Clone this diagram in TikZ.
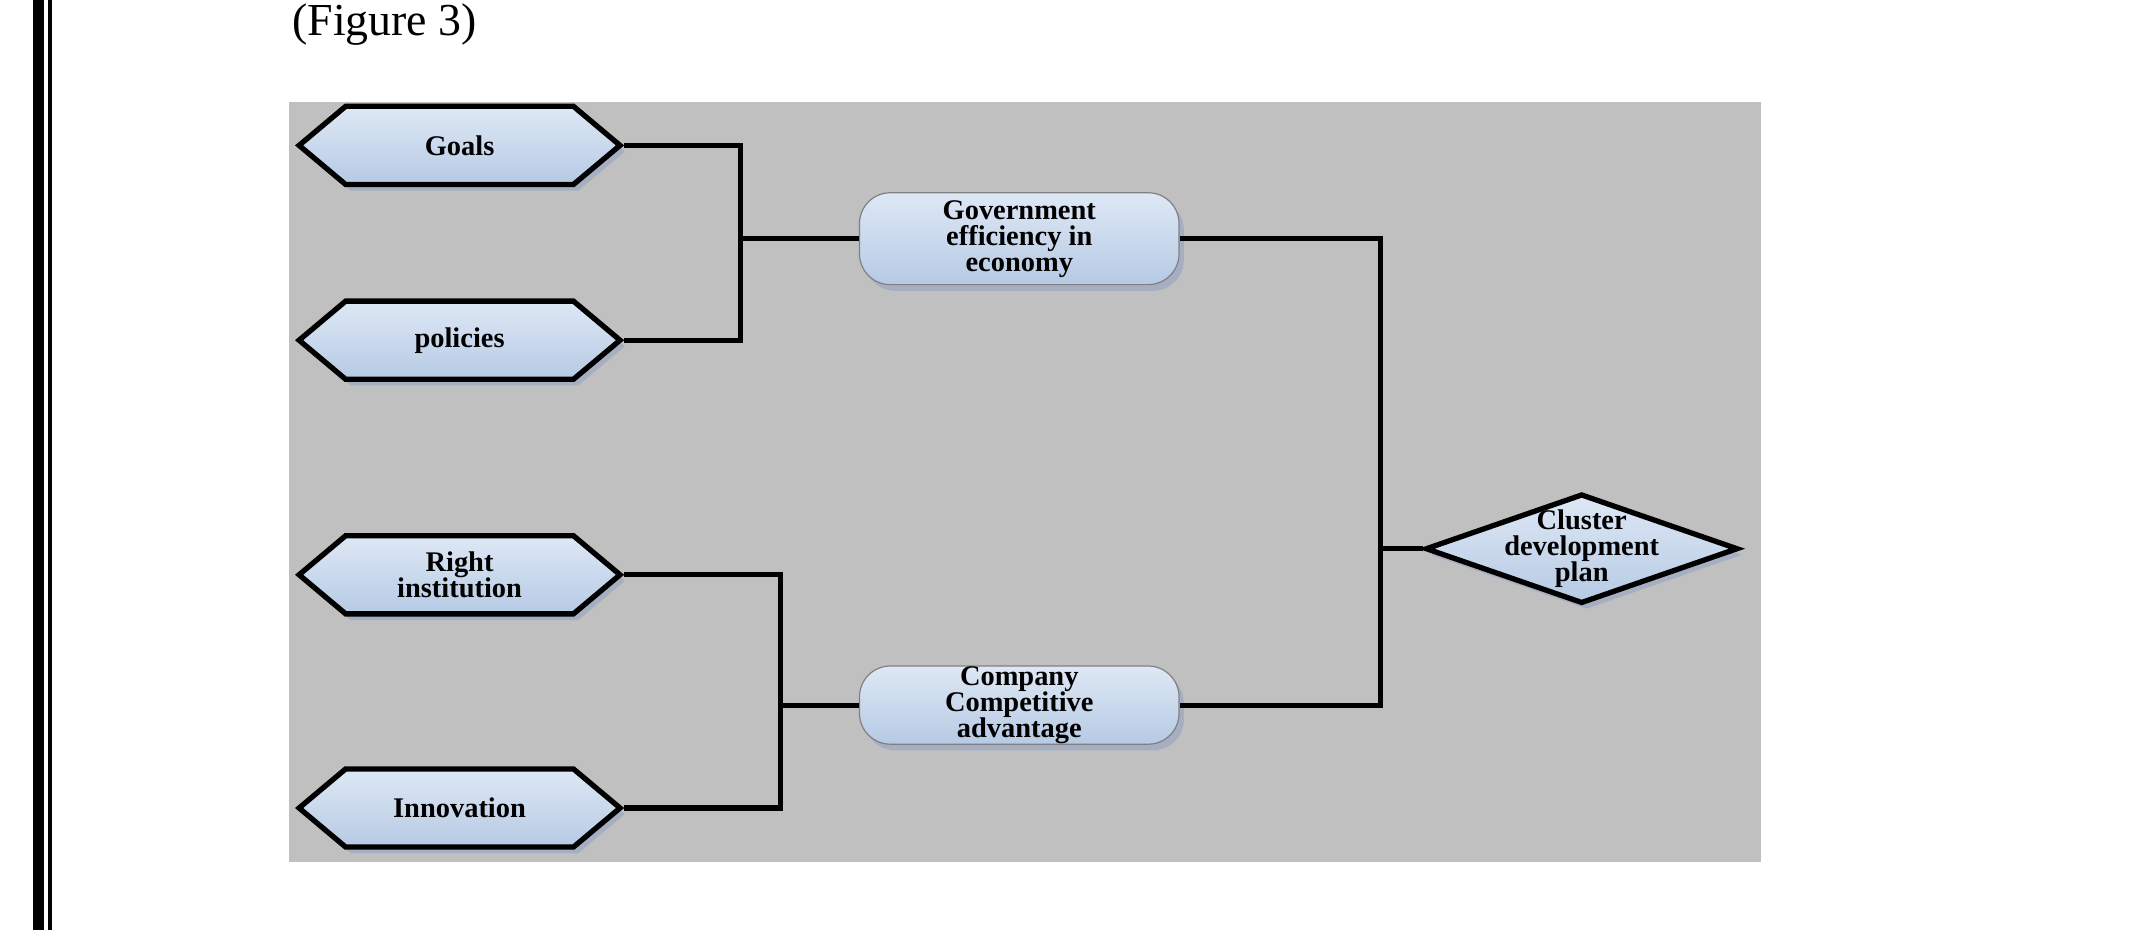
\documentclass[tikz,border=0pt]{standalone}
\usepackage{fontspec}
\setmainfont{Liberation Serif}
\usetikzlibrary{shapes.geometric,shapes.symbols,shadows}
\definecolor{panelgray}{RGB}{192,192,192}
\definecolor{boxtop}{RGB}{222,232,245}
\definecolor{boxbot}{RGB}{182,202,228}
\definecolor{shadowblue}{RGB}{150,165,195}
\tikzset{
  box/.style={top color=boxtop, bottom color=boxbot, align=center,
    font=\fontsize{11.8}{10.8}\selectfont\bfseries, inner sep=0pt,
    drop shadow={shadow xshift=0.07cm, shadow yshift=-0.09cm, fill=shadowblue, opacity=0.6}},
  hexa/.style={box, signal, signal to=west and east, signal pointer angle=80,
    minimum width=4.68cm, minimum height=1.14cm, draw=black, line width=2.2pt},
  pill/.style={box, rounded corners=0.45cm, minimum width=4.66cm, inner ysep=-3pt,
    draw=gray, line width=0.5pt},
  kite/.style={box, diamond, aspect=2.85, minimum width=4.56cm, minimum height=1.6cm,
    inner sep=-8pt, draw=black, line width=2.2pt},
  link/.style={line width=2.1pt, black}
}
\begin{document}
\begin{tikzpicture}[x=0.02cm, y=-0.02cm]
\useasboundingbox (0,0) rectangle (1568,678);
% page border
\fill[black] (24,0) rectangle (32,678);
\fill[black] (35,0) rectangle (38,678);
\node[anchor=west, font=\fontsize{19}{22}\selectfont] (fig) at (207,18) {(Figure 3)};
% panel
\fill[panelgray] (211,74) rectangle (1284,628);
% nodes
\node[hexa] (goals) at (335,106) {Goals};
\node[hexa] (pol) at (335,248) {policies};
\node[hexa] (inst) at (335,419) {Right\\institution};
\node[hexa] (inno) at (335,589) {Innovation};
\node[pill, minimum height=1.34cm] (gov) at (743,174) {Government\\efficiency in\\economy};
\node[pill, minimum height=1.14cm] (comp) at (743,514) {Company\\Competitive\\advantage};
\node[kite] (plan) at (1153,400) {Cluster\\development\\plan};
% junctions
\coordinate (j1) at (540,174);
\coordinate (j2) at (569,514);
\coordinate (j3) at (1006,400);
% connectors
\draw[link] (goals.east) -| (j1);
\draw[link] (pol.east) -| (j1);
\draw[link] (j1) -- (gov.west);
\draw[link] (inst.east) -| (j2);
\draw[link] (inno.east) -| (j2);
\draw[link] (j2) -- (comp.west);
\draw[link] (gov.east) -| (j3);
\draw[link] (comp.east) -| (j3);
\draw[link] (j3) -- (plan.west);
\end{tikzpicture}
\end{document}
